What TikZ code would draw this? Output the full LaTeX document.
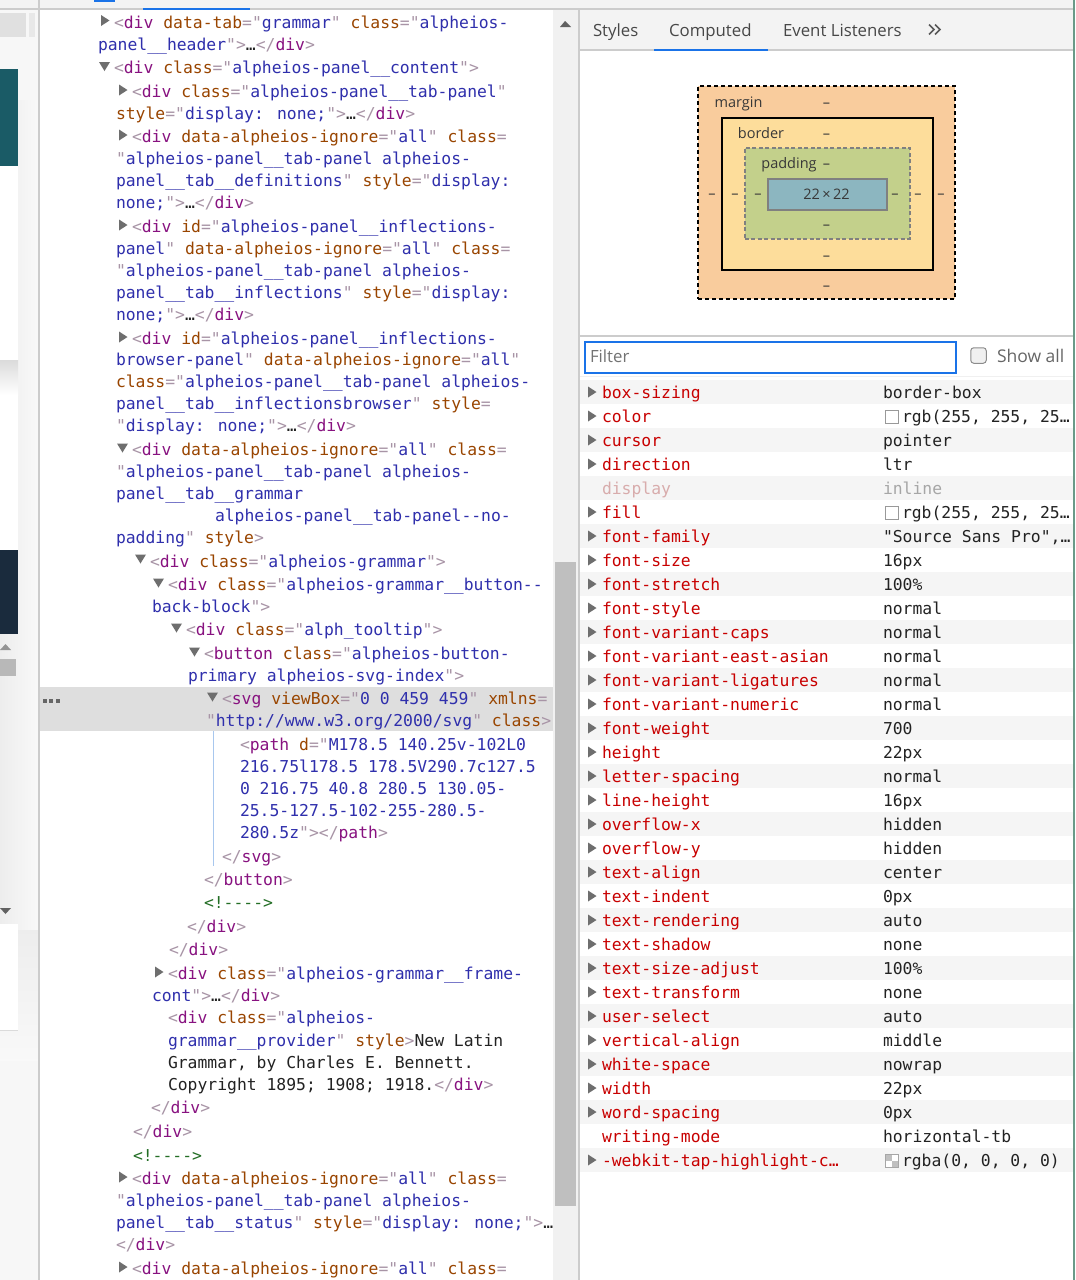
\documentclass[tikz,border=0pt]{standalone}
\usepackage{fontspec}
\newfontfamily\monoF{DejaVu Sans Mono}[Scale=1]
\newfontfamily\uiF{Open Sans}
\definecolor{cbr}{HTML}{A894A6}
\definecolor{ctag}{HTML}{881280}
\definecolor{cnm}{HTML}{994500}
\definecolor{cval}{HTML}{2F2FAC}
\definecolor{ctxt}{HTML}{222222}
\definecolor{ccom}{HTML}{236E25}
\definecolor{cprop}{HTML}{C80000}
\definecolor{cline}{HTML}{CCCCCC}
\definecolor{cbar}{HTML}{F3F3F3}
\definecolor{cblue}{HTML}{1A73E8}
\definecolor{ctri}{HTML}{6E6E6E}
\definecolor{cstripe}{HTML}{F5F5F5}
\definecolor{HTML1}{HTML}{1A5B66}
\definecolor{HTML2}{HTML}{1A2B3D}
\definecolor{HTML3}{HTML}{6A9A88}
\definecolor{HTML4}{HTML}{F9CC9D}
\definecolor{HTML5}{HTML}{FDDD9B}
\definecolor{HTML6}{HTML}{C3D08B}
\definecolor{HTML7}{HTML}{8CB6C0}
\definecolor{HTML8}{HTML}{D8ACAC}
\definecolor{HTML9}{HTML}{A8C7EE}
\newcommand\oT[1]{\textcolor{cbr}{<}\textcolor{ctag}{#1}}
\newcommand\cT[1]{\textcolor{cbr}{</}\textcolor{ctag}{#1}\textcolor{cbr}{>}}
\newcommand\gtS{\textcolor{cbr}{>}}
\newcommand\nmS[1]{\textcolor{cnm}{#1}}
\newcommand\eqS{\textcolor{cbr}{=}}
\newcommand\qS{\textcolor{cbr}{"}}
\newcommand\vlS[1]{\textcolor{cval}{#1}}
\newcommand\dotsS{\textcolor{ctxt}{…}}
\newcommand\uu{\_\_}
\newcount\cnumA
\newcount\cnumB
\newcommand\cd[3]{\global\advance\cnumA by 1 \node[codeline] (L\the\cnumA) at (#1,#2) {#3};}
\newcommand\triR[2]{\fill[ctri] (#1-4,#2-5.5) -- (#1+4.5,#2) -- (#1-4,#2+5.5) -- cycle;}
\newcommand\triD[2]{\fill[ctri] (#1-6,#2-4.5) -- (#1+5,#2-4.5) -- (#1-0.5,#2+4.5) -- cycle;}
\newcommand\rowP[4]{% y, arrow(1/0), name, value
  \global\advance\cnumB by 1
  \ifnum#2=1 \triR{592}{#1}\fi
  \node[proprow] (P\the\cnumB) at (602,#1+6) {\textcolor{cprop}{#3}};
  \node[proprow] (V\the\cnumB) at (883,#1+6) {\textcolor{ctxt}{#4}};}
\tikzset{
  codeline/.style={anchor=base west,inner sep=0pt,outer sep=0pt,font=\fontsize{16.38}{18}\monoF},
  proprow/.style={anchor=base west,inner sep=0pt,outer sep=0pt,font=\fontsize{16.38}{18}\monoF},
  uilabel/.style={inner sep=0pt,outer sep=0pt,text=black!72,font=\fontsize{16.8}{18}\uiF},
  boxlabel/.style={inner sep=0pt,outer sep=0pt,text=black!78,font=\fontsize{14.5}{16}\uiF},
  swatch/.style={draw=black!40,line width=1pt,fill=white}
}
\begin{document}
\begin{tikzpicture}[x=1pt,y=-1pt]
\useasboundingbox (0,0) rectangle (1076,1280);
\fill[white] (0,0) rectangle (1076,1280);
% left page strip
\fill[white!97!black] (0,0) rectangle (38,1280);
\shade[left color=black!7,right color=black!2.5] (0,100) rectangle (38,930);
\shade[top color=black!7,bottom color=black!2.5] (0,930) rectangle (38,1060);
\fill[black!12] (0,13) rectangle (26,37);
\fill[black!9] (29,13) rectangle (35,37);
\fill[white] (0,165) rectangle (18,550);
\shade[top color=black!14,bottom color=white] (0,360) rectangle (18,395);
\fill[HTML1] (0,69) rectangle (18,166);
\fill[HTML2] (0,550) rectangle (18,634);
\fill[black!42] (0,650) -- (5.5,644) -- (11,650) -- cycle;
\fill[black!28] (0,659) rectangle (16,676);
\fill[black!62] (0,908) -- (11,908) -- (5.5,914) -- cycle;
\fill[white] (0,924) rectangle (18,1030);
\fill[black!14] (0,1030) rectangle (18,1031);
% top chrome
\fill[cbar] (0,0) rectangle (1073,8);
\fill[cline] (0,8) rectangle (1073,10);
\fill[cblue] (94,0) rectangle (115,1.5);
\fill[cblue] (143,7.5) rectangle (250,9.5);
\fill[cline] (38,0) rectangle (39.5,1280);
% scrollbar + divider
\fill[black!5.5] (553,10) rectangle (578,1280);
\fill[black!25] (555,562) rectangle (576,1206);
\fill[black!62] (560,27) -- (565,21) -- (571,27) -- cycle;
\fill[cline] (578,10) rectangle (580,1280);
% right tab bar
\fill[cbar] (580,10) rectangle (1073,48.5);
\fill[cline] (580,48.5) rectangle (1073,50.5);
\fill[cblue] (654,48.5) rectangle (768,50.5);
\node[uilabel,anchor=base west] (tabS) at (593,36) {Styles};
\node[uilabel,anchor=base west] (tabC) at (669,36) {Computed};
\node[uilabel,anchor=base west] (tabE) at (783,36) {Event Listeners};
\draw[black!65,line width=1.7pt] (929,24.5) -- (934,29.5) -- (929,34.5) (935,24.5) -- (940,29.5) -- (935,34.5);
\fill[HTML3] (1073,0) rectangle (1075,1280);
% box model
\node[draw=black,dash pattern=on 4pt off 3pt,line width=2pt,fill=HTML4,minimum width=257pt,minimum height=213pt,inner sep=0pt,anchor=north west] (bm) at (697,85) {};
\node[draw=black,line width=2pt,fill=HTML5,minimum width=211pt,minimum height=152pt,inner sep=0pt,anchor=north west] (bb) at (720.5,116.5) {};
\node[draw=black!50,dash pattern=on 4pt off 2.5pt,line width=2pt,fill=HTML6,minimum width=165pt,minimum height=91pt,inner sep=0pt,anchor=north west] (bp) at (743.5,146.5) {};
\node[draw=black!50,line width=2pt,fill=HTML7,minimum width=119pt,minimum height=31pt,inner sep=0pt,anchor=north west] (bc) at (767,177.5) {};
\node[boxlabel,anchor=base] (lm) at (738.5,107) {margin};
\node[boxlabel,anchor=base] (lb) at (761,138) {border};
\node[boxlabel,anchor=base] (lp) at (789,168) {padding};
\node[boxlabel,anchor=base] (lc) at (826.5,199) {22\,×\,22};
\foreach \nn/\px/\py in {a/826.5/107,b/826.5/138,c/826.5/168,d/826.5/229,e/826.5/260,f/826.5/290,g/712/198,h/735/198,i/758/198,j/895/198,k/918/198,l/941/198}
  \node[boxlabel,anchor=base] (dash\nn) at (\px,\py) {–};
% filter
\fill[cline] (580,335) rectangle (1073,337);
\node[draw=cblue,line width=2pt,fill=white,minimum width=371pt,minimum height=31pt,inner sep=0pt,anchor=north west] (filter) at (583.5,340.5) {};
\node[uilabel,anchor=base west,text=black!55] (filtertext) at (590,362) {Filter};
\node[draw=black!45,line width=1pt,rounded corners=3pt,fill=black!6,minimum size=15.5pt,inner sep=0pt] (chk) at (978.5,355.5) {};
\node[uilabel,anchor=base west,text=black!60,font=\fontsize{17.5}{18}\uiF] (showall) at (997,362) {Show all};
% stripes
\fill[black!6] (580,376) rectangle (1073,377);
\foreach \yy in {380,428,...,1148} \fill[cstripe] (580,\yy) rectangle (1073,\yy+24);
% property rows
\rowP{392}{1}{box-sizing}{border-box}
\rowP{416}{1}{color}{\hspace{19pt}rgb(255, 255, 25…}
\rowP{440}{1}{cursor}{pointer}
\rowP{464}{1}{direction}{ltr}
\global\advance\cnumB by 1
\node[proprow,text=HTML8] (P\the\cnumB) at (602,494) {display};
\node[proprow,text=black!35] (V\the\cnumB) at (883,494) {inline};
\rowP{512}{1}{fill}{\hspace{19pt}rgb(255, 255, 25…}
\rowP{536}{1}{font-family}{"Source Sans Pro",…}
\rowP{560}{1}{font-size}{16px}
\rowP{584}{1}{font-stretch}{100\%}
\rowP{608}{1}{font-style}{normal}
\rowP{632}{1}{font-variant-caps}{normal}
\rowP{656}{1}{font-variant-east-asian}{normal}
\rowP{680}{1}{font-variant-ligatures}{normal}
\rowP{704}{1}{font-variant-numeric}{normal}
\rowP{728}{1}{font-weight}{700}
\rowP{752}{1}{height}{22px}
\rowP{776}{1}{letter-spacing}{normal}
\rowP{800}{1}{line-height}{16px}
\rowP{824}{1}{overflow-x}{hidden}
\rowP{848}{1}{overflow-y}{hidden}
\rowP{872}{1}{text-align}{center}
\rowP{896}{1}{text-indent}{0px}
\rowP{920}{1}{text-rendering}{auto}
\rowP{944}{1}{text-shadow}{none}
\rowP{968}{1}{text-size-adjust}{100\%}
\rowP{992}{1}{text-transform}{none}
\rowP{1016}{1}{user-select}{auto}
\rowP{1040}{1}{vertical-align}{middle}
\rowP{1064}{1}{white-space}{nowrap}
\rowP{1088}{1}{width}{22px}
\rowP{1112}{1}{word-spacing}{0px}
\rowP{1136}{0}{writing-mode}{horizontal-tb}
\rowP{1160}{1}{-webkit-tap-highlight-c…}{\hspace{19pt}rgba(0, 0, 0, 0)}
\draw[swatch] (885.5,410.5) rectangle (898.5,423.5);
\draw[swatch] (885.5,506.5) rectangle (898.5,519.5);
\fill[black!25] (885.5,1154) rectangle (898.5,1167);
\fill[white] (892,1154) rectangle (898.5,1160.5);
\fill[white] (885.5,1160.5) rectangle (892,1167);
\draw[black!35,line width=1pt] (885.5,1154) rectangle (898.5,1167);
% highlight row + guide
\fill[black!13] (39.5,687) rectangle (553,731);
\fill[black!60] (43,698.5) rectangle (47,702.5);
\fill[black!60] (49,698.5) rectangle (53,702.5);
\fill[black!60] (56,698.5) rectangle (60,702.5);
\fill[HTML9] (212.5,731) rectangle (214,866);
% code
\triR{105}{20.5}
\cd{114}{28}{\oT{div} \nmS{data-tab}\eqS\qS\vlS{grammar}\qS{} \nmS{class}\eqS\qS\vlS{alpheios-}}
\cd{98}{50}{\vlS{panel\uu header}\qS\gtS\dotsS\cT{div}}
\triD{105}{66.5}
\cd{114}{73}{\oT{div} \nmS{class}\eqS\qS\vlS{alpheios-panel\uu content}\qS\gtS}
\triR{123}{90}
\cd{132}{97}{\oT{div} \nmS{class}\eqS\qS\vlS{alpheios-panel\uu tab-panel}\qS}
\cd{116}{119}{\nmS{style}\eqS\qS\vlS{display: none;}\qS\gtS\dotsS\cT{div}}
\triR{123}{135}
\cd{132}{142}{\oT{div} \nmS{data-alpheios-ignore}\eqS\qS\vlS{all}\qS{} \nmS{class}\eqS}
\cd{116}{164}{\qS\vlS{alpheios-panel\uu tab-panel alpheios-}}
\cd{116}{186}{\vlS{panel\uu tab\uu definitions}\qS{} \nmS{style}\eqS\qS\vlS{display:}}
\cd{116}{208}{\vlS{none;}\qS\gtS\dotsS\cT{div}}
\triR{123}{225}
\cd{132}{232}{\oT{div} \nmS{id}\eqS\qS\vlS{alpheios-panel\uu inflections-}}
\cd{116}{254}{\vlS{panel}\qS{} \nmS{data-alpheios-ignore}\eqS\qS\vlS{all}\qS{} \nmS{class}\eqS}
\cd{116}{276}{\qS\vlS{alpheios-panel\uu tab-panel alpheios-}}
\cd{116}{298}{\vlS{panel\uu tab\uu inflections}\qS{} \nmS{style}\eqS\qS\vlS{display:}}
\cd{116}{320}{\vlS{none;}\qS\gtS\dotsS\cT{div}}
\triR{123}{337}
\cd{132}{344}{\oT{div} \nmS{id}\eqS\qS\vlS{alpheios-panel\uu inflections-}}
\cd{116}{365}{\vlS{browser-panel}\qS{} \nmS{data-alpheios-ignore}\eqS\qS\vlS{all}\qS}
\cd{116}{387}{\nmS{class}\eqS\qS\vlS{alpheios-panel\uu tab-panel alpheios-}}
\cd{116}{409}{\vlS{panel\uu tab\uu inflectionsbrowser}\qS{} \nmS{style}\eqS}
\cd{116}{431}{\qS\vlS{display: none;}\qS\gtS\dotsS\cT{div}}
\triD{123}{448}
\cd{132}{455}{\oT{div} \nmS{data-alpheios-ignore}\eqS\qS\vlS{all}\qS{} \nmS{class}\eqS}
\cd{116}{477}{\qS\vlS{alpheios-panel\uu tab-panel alpheios-}}
\cd{116}{499}{\vlS{panel\uu tab\uu grammar}}
\cd{215}{521}{\vlS{alpheios-panel\uu tab-panel--no-}}
\cd{116}{543}{\vlS{padding}\qS{} \nmS{style}\gtS}
\triD{141}{559}
\cd{150}{567}{\oT{div} \nmS{class}\eqS\qS\vlS{alpheios-grammar}\qS\gtS}
\triD{159}{583}
\cd{168}{590}{\oT{div} \nmS{class}\eqS\qS\vlS{alpheios-grammar\uu button--}}
\cd{152}{612}{\vlS{back-block}\qS\gtS}
\triD{177}{628}
\cd{186}{635}{\oT{div} \nmS{class}\eqS\qS\vlS{alph\_tooltip}\qS\gtS}
\triD{195}{652}
\cd{204}{659}{\oT{button} \nmS{class}\eqS\qS\vlS{alpheios-button-}}
\cd{188}{681}{\vlS{primary alpheios-svg-index}\qS\gtS}
\triD{213}{697}
\cd{222}{704}{\oT{svg} \nmS{viewBox}\eqS\qS\vlS{0 0 459 459}\qS{} \nmS{xmlns}\eqS}
\cd{206}{726}{\qS\vlS{http://www.w3.org/2000/svg}\qS{} \nmS{class}\gtS}
\cd{240}{750}{\oT{path} \nmS{d}\eqS\qS\vlS{M178.5 140.25v-102L0}}
\cd{240}{772}{\vlS{216.75l178.5 178.5V290.7c127.5}}
\cd{240}{794}{\vlS{0 216.75 40.8 280.5 130.05-}}
\cd{240}{816}{\vlS{25.5-127.5-102-255-280.5-}}
\cd{240}{838}{\vlS{280.5z}\qS\gtS\cT{path}}
\cd{222}{862}{\cT{svg}}
\cd{204}{885}{\cT{button}}
\cd{204}{908}{\textcolor{ccom}{<!---->}}
\cd{187}{932}{\cT{div}}
\cd{169}{955}{\cT{div}}
\triR{159}{972}
\cd{168}{979}{\oT{div} \nmS{class}\eqS\qS\vlS{alpheios-grammar\uu frame-}}
\cd{152}{1001}{\vlS{cont}\qS\gtS\dotsS\cT{div}}
\cd{168}{1023}{\oT{div} \nmS{class}\eqS\qS\vlS{alpheios-}}
\cd{168}{1046}{\vlS{grammar\uu provider}\qS{} \nmS{style}\gtS\textcolor{ctxt}{New Latin}}
\cd{168}{1068}{\textcolor{ctxt}{Grammar, by Charles E. Bennett.}}
\cd{168}{1090}{\textcolor{ctxt}{Copyright 1895; 1908; 1918.}\cT{div}}
\cd{151}{1113}{\cT{div}}
\cd{133}{1137}{\cT{div}}
\cd{133}{1161}{\textcolor{ccom}{<!---->}}
\triR{123}{1177}
\cd{132}{1184}{\oT{div} \nmS{data-alpheios-ignore}\eqS\qS\vlS{all}\qS{} \nmS{class}\eqS}
\cd{116}{1206}{\qS\vlS{alpheios-panel\uu tab-panel alpheios-}}
\cd{116}{1228}{\vlS{panel\uu tab\uu status}\qS{} \nmS{style}\eqS\qS\vlS{display: none;}\qS\gtS\dotsS}
\cd{116}{1250}{\cT{div}}
\triR{123}{1267}
\cd{132}{1274}{\oT{div} \nmS{data-alpheios-ignore}\eqS\qS\vlS{all}\qS{} \nmS{class}\eqS}
\end{tikzpicture}
\end{document}
